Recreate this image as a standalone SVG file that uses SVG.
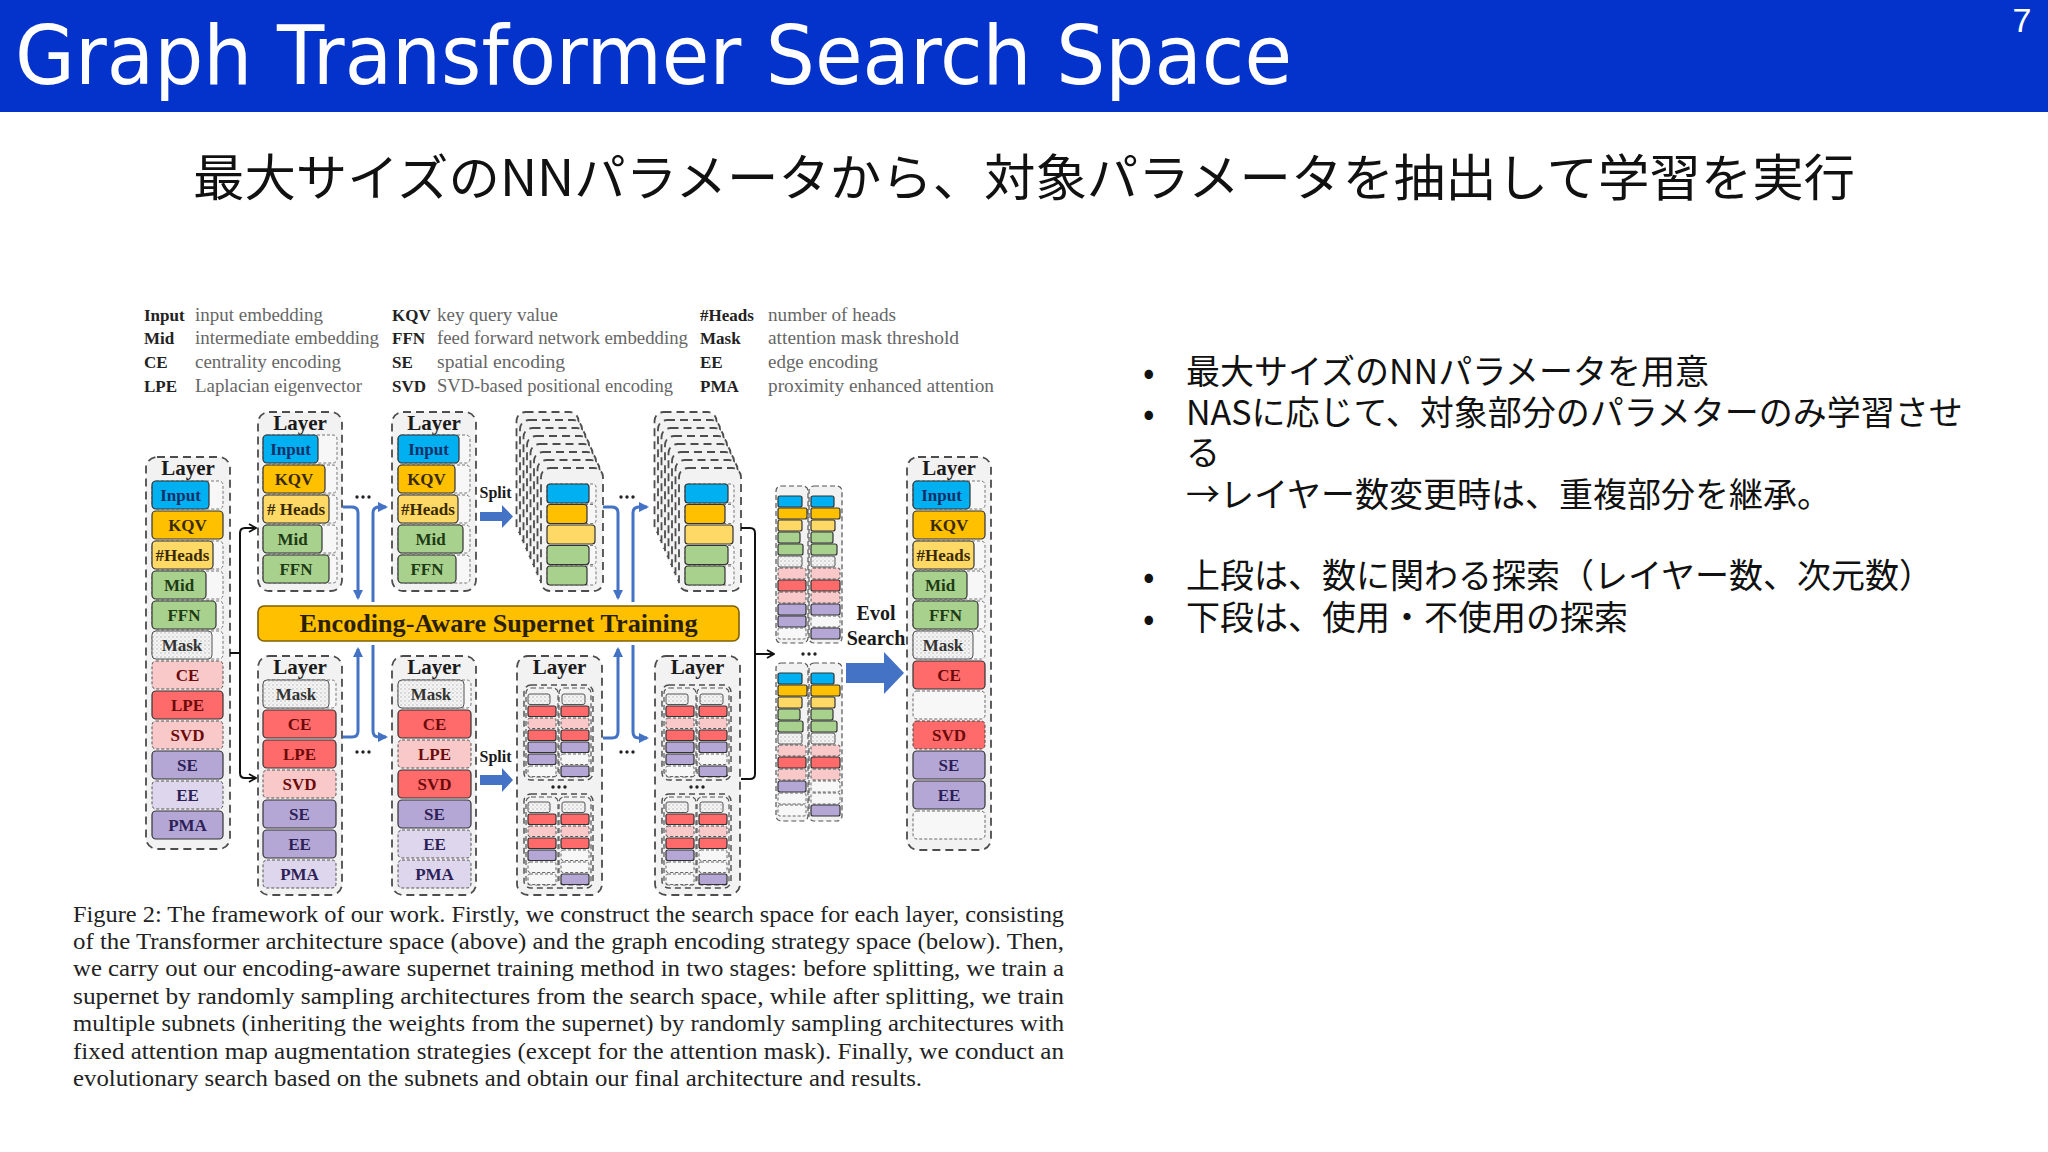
<svg xmlns="http://www.w3.org/2000/svg" width="2048" height="1152" viewBox="0 0 2048 1152">
<defs>
<pattern id="dots" width="4" height="4" patternUnits="userSpaceOnUse"><rect width="4" height="4" fill="#F4F4F4"/><circle cx="1" cy="1" r="0.7" fill="#A8A8A8"/><circle cx="3" cy="3" r="0.6" fill="#C4C4C4"/></pattern>
<marker id="ab" viewBox="0 0 10 10" refX="8" refY="5" markerWidth="3.4" markerHeight="3.4" orient="auto" markerUnits="strokeWidth"><path d="M0,0 L10,5 L0,10 z" fill="#4472C4"/></marker>
<marker id="ak" viewBox="0 0 10 10" refX="9" refY="5" markerWidth="5" markerHeight="5" orient="auto" markerUnits="strokeWidth"><path d="M2,1 L9,5 L2,9" fill="none" stroke="#111" stroke-width="1.8"/></marker>
<style>
.box{fill:#F2F2F2;stroke:#4d4d4d;stroke-width:1.8;stroke-dasharray:8 5}
.grp{fill:#F2F2F2;stroke:#4d4d4d;stroke-width:1.4;stroke-dasharray:6 4}
.col{fill:#F2F2F2;stroke:#555;stroke-width:1.2;stroke-dasharray:5 3}
.ph{fill:#F7F7F7;stroke:#777;stroke-width:1;stroke-dasharray:3 2}
.c{stroke:#333;stroke-width:1.2}
.blue{fill:#00B0F0}
.org{fill:#FFC000}
.lorg{fill:#FFD966}
.grn{fill:#A9D18E}
.mask{fill:url(#dots);stroke:#555;stroke-width:1}
.red{fill:#FF6B6B}
.pink{fill:#F9C9C9;stroke:#555;stroke-width:1;stroke-dasharray:3 2}
.pur{fill:#B4A7D6}
.lav{fill:#DDD6EC;stroke:#555;stroke-width:1;stroke-dasharray:3 2}
.emp{fill:#F7F7F7;stroke:#666;stroke-width:1;stroke-dasharray:3 2}
.redd{fill:#FF6B6B;stroke:#444;stroke-width:1;stroke-dasharray:3 2}
.lt{font-family:"Liberation Serif",serif;font-size:21px;font-weight:bold;text-anchor:middle;fill:#1a1a1a}
.it{font-family:"Liberation Serif",serif;font-size:17px;font-weight:bold;text-anchor:middle}
.tb{fill:#13306b}.tk{fill:#3a2a00}.tg{fill:#1d3b14}.tm{fill:#333}.tr{fill:#6d0a0a}.tp{fill:#2d1f57}
.bl{fill:none;stroke:#4472C4;stroke-width:3;marker-end:url(#ab)}
.bk{fill:none;stroke:#111;stroke-width:2}
.bka{fill:none;stroke:#111;stroke-width:2;marker-end:url(#ak)}
.lk{font-family:"Liberation Serif",serif;font-size:17px;font-weight:bold;fill:#222}
.ld{font-family:"Liberation Serif",serif;font-size:18px;fill:#666}
.cap{font-family:"Liberation Serif",serif;font-size:23.5px;fill:#222}
.jp{font-family:"Noto Sans CJK JP",sans-serif;fill:#111}
.lbl{font-family:"Liberation Serif",serif;font-weight:bold;fill:#1a1a1a}
</style>
</defs>
<rect width="2048" height="1152" fill="#FFFFFF"/>

<g id="title">
<rect x="0" y="0" width="2048" height="112" fill="#0433CC"/>
<text x="15" y="84" font-family="DejaVu Sans, sans-serif" font-size="82" fill="#FFFFFF" textLength="1277" lengthAdjust="spacingAndGlyphs">Graph Transformer Search Space</text>
<text x="2022" y="32" font-family="Liberation Sans, sans-serif" font-size="34" fill="#FFFFFF" text-anchor="middle">7</text>
</g>

<g id="subtitle">
<text class="jp" x="193" y="196" font-size="50" textLength="1662" lengthAdjust="spacingAndGlyphs">最大サイズのNNパラメータから、対象パラメータを抽出して学習を実行</text>
</g>

<g id="legend">
<text class="lk" x="144" y="321">Input</text><text class="ld" x="195" y="321" textLength="128" lengthAdjust="spacingAndGlyphs">input embedding</text>
<text class="lk" x="144" y="344">Mid</text><text class="ld" x="195" y="344" textLength="184" lengthAdjust="spacingAndGlyphs">intermediate embedding</text>
<text class="lk" x="144" y="368">CE</text><text class="ld" x="195" y="368" textLength="146" lengthAdjust="spacingAndGlyphs">centrality encoding</text>
<text class="lk" x="144" y="392">LPE</text><text class="ld" x="195" y="392" textLength="167" lengthAdjust="spacingAndGlyphs">Laplacian eigenvector</text>
<text class="lk" x="392" y="321">KQV</text><text class="ld" x="437" y="321" textLength="121" lengthAdjust="spacingAndGlyphs">key query value</text>
<text class="lk" x="392" y="344">FFN</text><text class="ld" x="437" y="344" textLength="251" lengthAdjust="spacingAndGlyphs">feed forward network embedding</text>
<text class="lk" x="392" y="368">SE</text><text class="ld" x="437" y="368" textLength="128" lengthAdjust="spacingAndGlyphs">spatial encoding</text>
<text class="lk" x="392" y="392">SVD</text><text class="ld" x="437" y="392" textLength="236" lengthAdjust="spacingAndGlyphs">SVD-based positional encoding</text>
<text class="lk" x="700" y="321">#Heads</text><text class="ld" x="768" y="321" textLength="128" lengthAdjust="spacingAndGlyphs">number of heads</text>
<text class="lk" x="700" y="344">Mask</text><text class="ld" x="768" y="344" textLength="191" lengthAdjust="spacingAndGlyphs">attention mask threshold</text>
<text class="lk" x="700" y="368">EE</text><text class="ld" x="768" y="368" textLength="110" lengthAdjust="spacingAndGlyphs">edge encoding</text>
<text class="lk" x="700" y="392">PMA</text><text class="ld" x="768" y="392" textLength="226" lengthAdjust="spacingAndGlyphs">proximity enhanced attention</text>
</g>

<g id="layer-left">
<rect class="box" x="146" y="457" width="84" height="392" rx="11"/>
<text class="lt" x="188" y="475">Layer</text>
<rect class="ph" x="152" y="481" width="71" height="28" rx="4"/>
<rect class="c blue" x="152" y="481" width="57" height="28" rx="4"/>
<text class="it tb" x="180.5" y="501">Input</text>
<rect class="c org" x="152" y="511" width="71" height="28" rx="4"/>
<text class="it tk" x="187.5" y="531">KQV</text>
<rect class="ph" x="152" y="541" width="71" height="28" rx="4"/>
<rect class="c lorg" x="152" y="541" width="61" height="28" rx="4"/>
<text class="it tk" x="182.5" y="561">#Heads</text>
<rect class="ph" x="152" y="571" width="71" height="28" rx="4"/>
<rect class="c grn" x="152" y="571" width="54" height="28" rx="4"/>
<text class="it tg" x="179" y="591">Mid</text>
<rect class="ph" x="152" y="601" width="71" height="28" rx="4"/>
<rect class="c grn" x="152" y="601" width="64" height="28" rx="4"/>
<text class="it tg" x="184" y="621">FFN</text>
<rect class="ph" x="152" y="631" width="71" height="28" rx="4"/>
<rect class="mask" x="152" y="631" width="60" height="28" rx="4"/>
<text class="it tm" x="182" y="651">Mask</text>
<rect class="pink" x="152" y="661" width="71" height="28" rx="4"/>
<text class="it tr" x="187.5" y="681">CE</text>
<rect class="c red" x="152" y="691" width="71" height="28" rx="4"/>
<text class="it tr" x="187.5" y="711">LPE</text>
<rect class="pink" x="152" y="721" width="71" height="28" rx="4"/>
<text class="it tr" x="187.5" y="741">SVD</text>
<rect class="c pur" x="152" y="751" width="71" height="28" rx="4"/>
<text class="it tp" x="187.5" y="771">SE</text>
<rect class="lav" x="152" y="781" width="71" height="28" rx="4"/>
<text class="it tp" x="187.5" y="801">EE</text>
<rect class="c pur" x="152" y="811" width="71" height="28" rx="4"/>
<text class="it tp" x="187.5" y="831">PMA</text>
</g>

<g id="layer-u1">
<rect class="box" x="258" y="412" width="84" height="179" rx="11"/>
<text class="lt" x="300" y="430">Layer</text>
<rect class="ph" x="263" y="435" width="74" height="28" rx="4"/>
<rect class="c blue" x="263" y="435" width="55" height="28" rx="4"/>
<text class="it tb" x="290.5" y="455">Input</text>
<rect class="ph" x="263" y="465" width="74" height="28" rx="4"/>
<rect class="c org" x="263" y="465" width="62" height="28" rx="4"/>
<text class="it tk" x="294" y="485">KQV</text>
<rect class="ph" x="263" y="495" width="74" height="28" rx="4"/>
<rect class="c lorg" x="263" y="495" width="66" height="28" rx="4"/>
<text class="it tk" x="296" y="515"># Heads</text>
<rect class="ph" x="263" y="525" width="74" height="28" rx="4"/>
<rect class="c grn" x="263" y="525" width="59" height="28" rx="4"/>
<text class="it tg" x="292.5" y="545">Mid</text>
<rect class="ph" x="263" y="555" width="74" height="28" rx="4"/>
<rect class="c grn" x="263" y="555" width="66" height="28" rx="4"/>
<text class="it tg" x="296" y="575">FFN</text>
</g>

<g id="layer-u2">
<rect class="box" x="392" y="412" width="84" height="179" rx="11"/>
<text class="lt" x="434" y="430">Layer</text>
<rect class="ph" x="398" y="435" width="72" height="28" rx="4"/>
<rect class="c blue" x="398" y="435" width="61" height="28" rx="4"/>
<text class="it tb" x="428.5" y="455">Input</text>
<rect class="ph" x="398" y="465" width="72" height="28" rx="4"/>
<rect class="c org" x="398" y="465" width="57" height="28" rx="4"/>
<text class="it tk" x="426.5" y="485">KQV</text>
<rect class="ph" x="398" y="495" width="72" height="28" rx="4"/>
<rect class="c lorg" x="398" y="495" width="60" height="28" rx="4"/>
<text class="it tk" x="428" y="515">#Heads</text>
<rect class="ph" x="398" y="525" width="72" height="28" rx="4"/>
<rect class="c grn" x="398" y="525" width="65" height="28" rx="4"/>
<text class="it tg" x="430.5" y="545">Mid</text>
<rect class="ph" x="398" y="555" width="72" height="28" rx="4"/>
<rect class="c grn" x="398" y="555" width="58" height="28" rx="4"/>
<text class="it tg" x="427" y="575">FFN</text>
</g>

<g id="supernet">
<rect x="258" y="606" width="481" height="35" rx="6" fill="#FFC000" stroke="#7F6000" stroke-width="1.6"/>
<text x="498.5" y="632" font-family="Liberation Serif, serif" font-size="25" font-weight="bold" fill="#2a2000" text-anchor="middle" textLength="398" lengthAdjust="spacingAndGlyphs">Encoding-Aware Supernet Training</text>
</g>

<g id="layer-l1">
<rect class="box" x="258" y="656" width="84" height="239" rx="11"/>
<text class="lt" x="300" y="674">Layer</text>
<rect class="ph" x="263" y="680" width="73" height="28" rx="4"/>
<rect class="mask" x="263" y="680" width="66" height="28" rx="4"/>
<text class="it tm" x="296" y="700">Mask</text>
<rect class="c red" x="263" y="710" width="73" height="28" rx="4"/>
<text class="it tr" x="299.5" y="730">CE</text>
<rect class="c red" x="263" y="740" width="73" height="28" rx="4"/>
<text class="it tr" x="299.5" y="760">LPE</text>
<rect class="pink" x="263" y="770" width="73" height="28" rx="4"/>
<text class="it tr" x="299.5" y="790">SVD</text>
<rect class="c pur" x="263" y="800" width="73" height="28" rx="4"/>
<text class="it tp" x="299.5" y="820">SE</text>
<rect class="c pur" x="263" y="830" width="73" height="28" rx="4"/>
<text class="it tp" x="299.5" y="850">EE</text>
<rect class="lav" x="263" y="860" width="73" height="28" rx="4"/>
<text class="it tp" x="299.5" y="880">PMA</text>
</g>

<g id="layer-l2">
<rect class="box" x="392" y="656" width="84" height="239" rx="11"/>
<text class="lt" x="434" y="674">Layer</text>
<rect class="ph" x="398" y="680" width="73" height="28" rx="4"/>
<rect class="mask" x="398" y="680" width="66" height="28" rx="4"/>
<text class="it tm" x="431" y="700">Mask</text>
<rect class="c red" x="398" y="710" width="73" height="28" rx="4"/>
<text class="it tr" x="434.5" y="730">CE</text>
<rect class="pink" x="398" y="740" width="73" height="28" rx="4"/>
<text class="it tr" x="434.5" y="760">LPE</text>
<rect class="c red" x="398" y="770" width="73" height="28" rx="4"/>
<text class="it tr" x="434.5" y="790">SVD</text>
<rect class="c pur" x="398" y="800" width="73" height="28" rx="4"/>
<text class="it tp" x="434.5" y="820">SE</text>
<rect class="lav" x="398" y="830" width="73" height="28" rx="4"/>
<text class="it tp" x="434.5" y="850">EE</text>
<rect class="lav" x="398" y="860" width="73" height="28" rx="4"/>
<text class="it tp" x="434.5" y="880">PMA</text>
</g>

<g id="stack-u1">
<rect class="box" x="516.5" y="412" width="62" height="123" rx="9"/>
<rect class="box" x="520" y="420" width="62" height="123" rx="9"/>
<rect class="box" x="523.5" y="428" width="62" height="123" rx="9"/>
<rect class="box" x="527" y="436" width="62" height="123" rx="9"/>
<rect class="box" x="530.5" y="444" width="62" height="123" rx="9"/>
<rect class="box" x="534" y="452" width="62" height="123" rx="9"/>
<rect class="box" x="537.5" y="460" width="62" height="123" rx="9"/>
<rect class="box" x="541" y="468" width="62" height="123" rx="9"/>
<rect class="ph" x="547" y="484" width="49" height="19" rx="3"/>
<rect class="c blue" x="547" y="484" width="42" height="19" rx="3"/>
<rect class="ph" x="547" y="504.5" width="49" height="19" rx="3"/>
<rect class="c org" x="547" y="504.5" width="40" height="19" rx="3"/>
<rect class="c lorg" x="547" y="525" width="48" height="19" rx="3"/>
<rect class="ph" x="547" y="545.5" width="49" height="19" rx="3"/>
<rect class="c grn" x="547" y="545.5" width="42" height="19" rx="3"/>
<rect class="ph" x="547" y="566" width="49" height="19" rx="3"/>
<rect class="c grn" x="547" y="566" width="40" height="19" rx="3"/>
</g>

<g id="stack-u2">
<rect class="box" x="654.5" y="412" width="62" height="123" rx="9"/>
<rect class="box" x="658" y="420" width="62" height="123" rx="9"/>
<rect class="box" x="661.5" y="428" width="62" height="123" rx="9"/>
<rect class="box" x="665" y="436" width="62" height="123" rx="9"/>
<rect class="box" x="668.5" y="444" width="62" height="123" rx="9"/>
<rect class="box" x="672" y="452" width="62" height="123" rx="9"/>
<rect class="box" x="675.5" y="460" width="62" height="123" rx="9"/>
<rect class="box" x="679" y="468" width="62" height="123" rx="9"/>
<rect class="ph" x="685" y="484" width="49" height="19" rx="3"/>
<rect class="c blue" x="685" y="484" width="43" height="19" rx="3"/>
<rect class="ph" x="685" y="504.5" width="49" height="19" rx="3"/>
<rect class="c org" x="685" y="504.5" width="40" height="19" rx="3"/>
<rect class="c lorg" x="685" y="525" width="48" height="19" rx="3"/>
<rect class="ph" x="685" y="545.5" width="49" height="19" rx="3"/>
<rect class="c grn" x="685" y="545.5" width="43" height="19" rx="3"/>
<rect class="ph" x="685" y="566" width="49" height="19" rx="3"/>
<rect class="c grn" x="685" y="566" width="40" height="19" rx="3"/>
</g>

<g id="layer-ls1">
<rect class="box" x="517" y="656" width="85" height="239" rx="11"/>
<text class="lt" x="559.5" y="674">Layer</text>
<rect class="grp" x="524" y="685" width="69" height="95" rx="7"/>
<rect class="col" x="526" y="688" width="32" height="89" rx="5"/>
<rect class="col" x="559" y="688" width="32" height="89" rx="5"/>
<rect class="mask" x="528" y="694" width="22" height="10.5" rx="2"/>
<rect class="c red" x="528" y="706" width="28" height="10.5" rx="2"/>
<rect class="pink" x="528" y="718" width="28" height="10.5" rx="2"/>
<rect class="c red" x="528" y="730" width="28" height="10.5" rx="2"/>
<rect class="c pur" x="528" y="742" width="28" height="10.5" rx="2"/>
<rect class="c pur" x="528" y="754" width="28" height="10.5" rx="2"/>
<rect class="emp" x="528" y="766" width="28" height="10.5" rx="2"/>
<rect class="mask" x="562" y="694" width="23" height="10.5" rx="2"/>
<rect class="c red" x="561" y="706" width="28" height="10.5" rx="2"/>
<rect class="pink" x="561" y="718" width="28" height="10.5" rx="2"/>
<rect class="c red" x="561" y="730" width="28" height="10.5" rx="2"/>
<rect class="c pur" x="561" y="742" width="28" height="10.5" rx="2"/>
<rect class="emp" x="561" y="754" width="28" height="10.5" rx="2"/>
<rect class="c pur" x="561" y="766" width="28" height="10.5" rx="2"/>
<circle cx="553" cy="787" r="1.7" fill="#222"/><circle cx="559" cy="787" r="1.7" fill="#222"/><circle cx="565" cy="787" r="1.7" fill="#222"/>
<rect class="grp" x="524" y="794" width="69" height="94" rx="7"/>
<rect class="col" x="526" y="797" width="32" height="88" rx="5"/>
<rect class="col" x="559" y="797" width="32" height="88" rx="5"/>
<rect class="mask" x="528" y="802" width="22" height="10.5" rx="2"/>
<rect class="c red" x="528" y="814" width="28" height="10.5" rx="2"/>
<rect class="pink" x="528" y="826" width="28" height="10.5" rx="2"/>
<rect class="c red" x="528" y="838" width="28" height="10.5" rx="2"/>
<rect class="c pur" x="528" y="850" width="28" height="10.5" rx="2"/>
<rect class="emp" x="528" y="862" width="28" height="10.5" rx="2"/>
<rect class="emp" x="528" y="874" width="28" height="10.5" rx="2"/>
<rect class="mask" x="562" y="802" width="23" height="10.5" rx="2"/>
<rect class="c red" x="561" y="814" width="28" height="10.5" rx="2"/>
<rect class="pink" x="561" y="826" width="28" height="10.5" rx="2"/>
<rect class="c red" x="561" y="838" width="28" height="10.5" rx="2"/>
<rect class="emp" x="561" y="850" width="28" height="10.5" rx="2"/>
<rect class="emp" x="561" y="862" width="28" height="10.5" rx="2"/>
<rect class="c pur" x="561" y="874" width="28" height="10.5" rx="2"/>
</g>

<g id="layer-ls2">
<rect class="box" x="655" y="656" width="85" height="239" rx="11"/>
<text class="lt" x="697.5" y="674">Layer</text>
<rect class="grp" x="662" y="685" width="69" height="95" rx="7"/>
<rect class="col" x="664" y="688" width="32" height="89" rx="5"/>
<rect class="col" x="697" y="688" width="32" height="89" rx="5"/>
<rect class="mask" x="666" y="694" width="22" height="10.5" rx="2"/>
<rect class="c red" x="666" y="706" width="28" height="10.5" rx="2"/>
<rect class="pink" x="666" y="718" width="28" height="10.5" rx="2"/>
<rect class="c red" x="666" y="730" width="28" height="10.5" rx="2"/>
<rect class="c pur" x="666" y="742" width="28" height="10.5" rx="2"/>
<rect class="c pur" x="666" y="754" width="28" height="10.5" rx="2"/>
<rect class="emp" x="666" y="766" width="28" height="10.5" rx="2"/>
<rect class="mask" x="700" y="694" width="23" height="10.5" rx="2"/>
<rect class="c red" x="699" y="706" width="28" height="10.5" rx="2"/>
<rect class="pink" x="699" y="718" width="28" height="10.5" rx="2"/>
<rect class="c red" x="699" y="730" width="28" height="10.5" rx="2"/>
<rect class="c pur" x="699" y="742" width="28" height="10.5" rx="2"/>
<rect class="emp" x="699" y="754" width="28" height="10.5" rx="2"/>
<rect class="c pur" x="699" y="766" width="28" height="10.5" rx="2"/>
<circle cx="691" cy="787" r="1.7" fill="#222"/><circle cx="697" cy="787" r="1.7" fill="#222"/><circle cx="703" cy="787" r="1.7" fill="#222"/>
<rect class="grp" x="662" y="794" width="69" height="94" rx="7"/>
<rect class="col" x="664" y="797" width="32" height="88" rx="5"/>
<rect class="col" x="697" y="797" width="32" height="88" rx="5"/>
<rect class="mask" x="666" y="802" width="22" height="10.5" rx="2"/>
<rect class="c red" x="666" y="814" width="28" height="10.5" rx="2"/>
<rect class="pink" x="666" y="826" width="28" height="10.5" rx="2"/>
<rect class="c red" x="666" y="838" width="28" height="10.5" rx="2"/>
<rect class="c pur" x="666" y="850" width="28" height="10.5" rx="2"/>
<rect class="emp" x="666" y="862" width="28" height="10.5" rx="2"/>
<rect class="emp" x="666" y="874" width="28" height="10.5" rx="2"/>
<rect class="mask" x="700" y="802" width="23" height="10.5" rx="2"/>
<rect class="c red" x="699" y="814" width="28" height="10.5" rx="2"/>
<rect class="pink" x="699" y="826" width="28" height="10.5" rx="2"/>
<rect class="c red" x="699" y="838" width="28" height="10.5" rx="2"/>
<rect class="emp" x="699" y="850" width="28" height="10.5" rx="2"/>
<rect class="emp" x="699" y="862" width="28" height="10.5" rx="2"/>
<rect class="c pur" x="699" y="874" width="28" height="10.5" rx="2"/>
</g>

<g id="subnets-top">
<rect class="col" x="776" y="486" width="32" height="157" rx="5"/>
<rect class="col" x="809" y="486" width="33" height="157" rx="5"/>
<rect class="c blue" x="778" y="496" width="24" height="11" rx="2"/>
<rect class="c org" x="778" y="508" width="29" height="11" rx="2"/>
<rect class="c lorg" x="778" y="520" width="24" height="11" rx="2"/>
<rect class="c grn" x="778" y="532" width="22" height="11" rx="2"/>
<rect class="c grn" x="778" y="544" width="25" height="11" rx="2"/>
<rect class="mask" x="778" y="556" width="24" height="11" rx="2"/>
<rect class="pink" x="778" y="568" width="28" height="11" rx="2"/>
<rect class="c red" x="778" y="580" width="28" height="11" rx="2"/>
<rect class="pink" x="778" y="592" width="28" height="11" rx="2"/>
<rect class="c pur" x="778" y="604" width="28" height="11" rx="2"/>
<rect class="c pur" x="778" y="616" width="28" height="11" rx="2"/>
<rect class="emp" x="778" y="628" width="28" height="11" rx="2"/>
<rect class="c blue" x="811" y="496" width="23" height="11" rx="2"/>
<rect class="c org" x="811" y="508" width="29" height="11" rx="2"/>
<rect class="c lorg" x="811" y="520" width="24" height="11" rx="2"/>
<rect class="c grn" x="811" y="532" width="22" height="11" rx="2"/>
<rect class="c grn" x="811" y="544" width="26" height="11" rx="2"/>
<rect class="mask" x="811" y="556" width="24" height="11" rx="2"/>
<rect class="pink" x="811" y="568" width="29" height="11" rx="2"/>
<rect class="c red" x="811" y="580" width="29" height="11" rx="2"/>
<rect class="pink" x="811" y="592" width="29" height="11" rx="2"/>
<rect class="c pur" x="811" y="604" width="29" height="11" rx="2"/>
<rect class="emp" x="811" y="616" width="29" height="11" rx="2"/>
<rect class="c pur" x="811" y="628" width="29" height="11" rx="2"/>
</g>

<g id="subnets-bottom">
<circle cx="803" cy="654" r="1.7" fill="#222"/><circle cx="809" cy="654" r="1.7" fill="#222"/><circle cx="815" cy="654" r="1.7" fill="#222"/>
<rect class="col" x="776" y="663" width="32" height="158" rx="5"/>
<rect class="col" x="809" y="663" width="33" height="158" rx="5"/>
<rect class="c blue" x="778" y="673" width="24" height="11" rx="2"/>
<rect class="c org" x="778" y="685" width="29" height="11" rx="2"/>
<rect class="c lorg" x="778" y="697" width="24" height="11" rx="2"/>
<rect class="c grn" x="778" y="709" width="22" height="11" rx="2"/>
<rect class="c grn" x="778" y="721" width="25" height="11" rx="2"/>
<rect class="mask" x="778" y="733" width="24" height="11" rx="2"/>
<rect class="pink" x="778" y="745" width="28" height="11" rx="2"/>
<rect class="c red" x="778" y="757" width="28" height="11" rx="2"/>
<rect class="pink" x="778" y="769" width="28" height="11" rx="2"/>
<rect class="c pur" x="778" y="781" width="28" height="11" rx="2"/>
<rect class="emp" x="778" y="793" width="28" height="11" rx="2"/>
<rect class="emp" x="778" y="805" width="28" height="11" rx="2"/>
<rect class="c blue" x="811" y="673" width="23" height="11" rx="2"/>
<rect class="c org" x="811" y="685" width="29" height="11" rx="2"/>
<rect class="c lorg" x="811" y="697" width="24" height="11" rx="2"/>
<rect class="c grn" x="811" y="709" width="22" height="11" rx="2"/>
<rect class="c grn" x="811" y="721" width="26" height="11" rx="2"/>
<rect class="mask" x="811" y="733" width="24" height="11" rx="2"/>
<rect class="pink" x="811" y="745" width="29" height="11" rx="2"/>
<rect class="c red" x="811" y="757" width="29" height="11" rx="2"/>
<rect class="pink" x="811" y="769" width="29" height="11" rx="2"/>
<rect class="emp" x="811" y="781" width="29" height="11" rx="2"/>
<rect class="emp" x="811" y="793" width="29" height="11" rx="2"/>
<rect class="c pur" x="811" y="805" width="29" height="11" rx="2"/>
</g>

<g id="layer-final">
<rect class="box" x="907" y="457" width="84" height="393" rx="11"/>
<text class="lt" x="949" y="475">Layer</text>
<rect class="ph" x="913" y="481" width="72" height="28" rx="4"/>
<rect class="c blue" x="913" y="481" width="57" height="28" rx="4"/>
<text class="it tb" x="941.5" y="501">Input</text>
<rect class="c org" x="913" y="511" width="72" height="28" rx="4"/>
<text class="it tk" x="949" y="531">KQV</text>
<rect class="ph" x="913" y="541" width="72" height="28" rx="4"/>
<rect class="c lorg" x="913" y="541" width="61" height="28" rx="4"/>
<text class="it tk" x="943.5" y="561">#Heads</text>
<rect class="ph" x="913" y="571" width="72" height="28" rx="4"/>
<rect class="c grn" x="913" y="571" width="54" height="28" rx="4"/>
<text class="it tg" x="940" y="591">Mid</text>
<rect class="ph" x="913" y="601" width="72" height="28" rx="4"/>
<rect class="c grn" x="913" y="601" width="65" height="28" rx="4"/>
<text class="it tg" x="945.5" y="621">FFN</text>
<rect class="ph" x="913" y="631" width="72" height="28" rx="4"/>
<rect class="mask" x="913" y="631" width="60" height="28" rx="4"/>
<text class="it tm" x="943" y="651">Mask</text>
<rect class="c red" x="913" y="661" width="72" height="28" rx="4"/>
<text class="it tr" x="949" y="681">CE</text>
<rect class="emp" x="913" y="691" width="72" height="28" rx="4"/>
<rect class="redd" x="913" y="721" width="72" height="28" rx="4"/>
<text class="it tr" x="949" y="741">SVD</text>
<rect class="c pur" x="913" y="751" width="72" height="28" rx="4"/>
<text class="it tp" x="949" y="771">SE</text>
<rect class="c pur" x="913" y="781" width="72" height="28" rx="4"/>
<text class="it tp" x="949" y="801">EE</text>
<rect class="emp" x="913" y="811" width="72" height="28" rx="4"/>
</g>

<g id="connectors">
<path class="bk" d="M230,653 H240"/>
<path class="bka" d="M240,653 V533 Q240,528 245,528 H256"/>
<path class="bka" d="M240,653 V773 Q240,778 245,778 H256"/>
<path class="bk" d="M741,528 H750 Q755,528 755,533 V774 Q755,779 750,779 H741"/>
<path class="bka" d="M755,654 H774"/>
<path class="bl" d="M343,507 H352 Q358,507 358,513 V598"/>
<path class="bl" d="M373,602 V513 Q373,507 379,507 H386"/>
<path class="bl" d="M603,507 H612 Q618,507 618,513 V598"/>
<path class="bl" d="M633,602 V513 Q633,507 639,507 H647"/>
<path class="bl" d="M343,737 H352 Q358,737 358,731 V649"/>
<path class="bl" d="M373,645 V731 Q373,737 379,737 H386"/>
<path class="bl" d="M603,738 H612 Q618,738 618,732 V649"/>
<path class="bl" d="M633,645 V732 Q633,738 639,738 H647"/>
<circle cx="357" cy="497" r="1.7" fill="#222"/><circle cx="363" cy="497" r="1.7" fill="#222"/><circle cx="369" cy="497" r="1.7" fill="#222"/>
<circle cx="621" cy="497" r="1.7" fill="#222"/><circle cx="627" cy="497" r="1.7" fill="#222"/><circle cx="633" cy="497" r="1.7" fill="#222"/>
<circle cx="357" cy="752" r="1.7" fill="#222"/><circle cx="363" cy="752" r="1.7" fill="#222"/><circle cx="369" cy="752" r="1.7" fill="#222"/>
<circle cx="621" cy="752" r="1.7" fill="#222"/><circle cx="627" cy="752" r="1.7" fill="#222"/><circle cx="633" cy="752" r="1.7" fill="#222"/>
<polygon points="480,512 502,512 502,505 513,516.5 502,528 502,521 480,521" fill="#4472C4"/>
<text class="lbl" x="495.5" y="498" font-size="16" font-weight="normal" text-anchor="middle">Split</text>
<polygon points="480,775 502,775 502,768 513,780 502,792 502,785 480,785" fill="#4472C4"/>
<text class="lbl" x="495.5" y="762" font-size="16" font-weight="normal" text-anchor="middle">Split</text>
<polygon points="846,663 884,663 884,652 904,673 884,694 884,683 846,683" fill="#4472C4"/>
<text class="lbl" x="876" y="620" font-size="20" text-anchor="middle">Evol</text>
<text class="lbl" x="876" y="645" font-size="20" text-anchor="middle">Search</text>
</g>

<g id="caption">
<text class="cap" x="73" y="922" textLength="991" lengthAdjust="spacingAndGlyphs">Figure 2: The framework of our work. Firstly, we construct the search space for each layer, consisting</text>
<text class="cap" x="73" y="949" textLength="991" lengthAdjust="spacingAndGlyphs">of the Transformer architecture space (above) and the graph encoding strategy space (below). Then,</text>
<text class="cap" x="73" y="976" textLength="991" lengthAdjust="spacingAndGlyphs">we carry out our encoding-aware supernet training method in two stages: before splitting, we train a</text>
<text class="cap" x="73" y="1004" textLength="991" lengthAdjust="spacingAndGlyphs">supernet by randomly sampling architectures from the search space, while after splitting, we train</text>
<text class="cap" x="73" y="1031" textLength="991" lengthAdjust="spacingAndGlyphs">multiple subnets (inheriting the weights from the supernet) by randomly sampling architectures with</text>
<text class="cap" x="73" y="1059" textLength="991" lengthAdjust="spacingAndGlyphs">fixed attention map augmentation strategies (except for the attention mask). Finally, we conduct an</text>
<text class="cap" x="73" y="1086" textLength="849" lengthAdjust="spacingAndGlyphs">evolutionary search based on the subnets and obtain our final architecture and results.</text>
</g>

<g id="bullets" class="jp" font-size="34">
<text x="1143" y="384">•</text><text x="1186" y="384">最大サイズのNNパラメータを用意</text>
<text x="1143" y="425">•</text><text x="1186" y="425">NASに応じて、対象部分のパラメターのみ学習させ</text>
<text x="1186" y="465">る</text>
<text x="1186" y="507">→レイヤー数変更時は、重複部分を継承。</text>
<text x="1143" y="588">•</text><text x="1186" y="588">上段は、数に関わる探索（レイヤー数、次元数）</text>
<text x="1143" y="630">•</text><text x="1186" y="630">下段は、使用・不使用の探索</text>
</g>
</svg>
